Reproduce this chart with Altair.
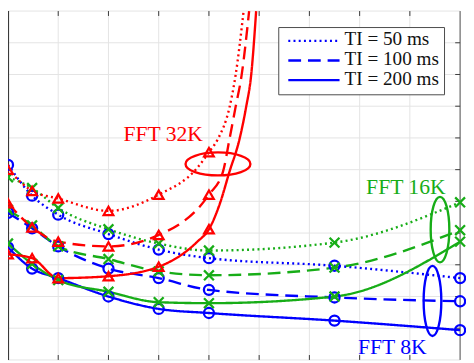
import altair as alt
import pandas as pd

# ---------------- data (x, y in grid-cell units) ----------------
FFT_KEYS = ["8K", "16K", "32K"]
FFT_LABELS = ["FFT 8K", "FFT 16K", "FFT 32K"]
TI_KEYS = ["50", "100", "200"]
TI_LABELS = ["TI = 50 ms", "TI = 100 ms", "TI = 200 ms"]

X_PTS = [0, 0.48, 1, 2, 3, 4, 6.5, 9]
X_RED = [0, 0.48, 1, 2, 3, 4]

FFT8K_50 = [6.15, 5.18, 4.58, 3.97, 3.48, 3.21, 2.97, 2.58]
FFT8K_100 = [4.64, 4.15, 3.58, 2.88, 2.58, 2.21, 1.97, 1.85]
FFT8K_200 = [3.55, 2.88, 2.58, 2.00, 1.61, 1.48, 1.24, 0.94]

FFT16K_50 = [5.76, 5.42, 4.79, 4.12, 3.67, 3.45, 3.70, 4.97]
FFT16K_100 = [4.73, 4.24, 3.58, 3.18, 2.79, 2.67, 2.91, 4.09]
FFT16K_200 = [3.67, 3.03, 2.52, 2.15, 1.82, 1.79, 2.00, 3.73]

FFT32K_50 = [6.00, 5.33, 5.09, 4.70, 5.21, 6.55]
FFT32K_100 = [4.94, 4.18, 3.73, 3.58, 3.94, 5.21]
FFT32K_200 = [3.33, 3.21, 2.58, 2.64, 2.94, 4.12]

# curve points of the 32K lines without markers (read off the steep rise)
FFT32K_50_CX = [3.77, 4.18, 4.41, 4.53, 4.69]
FFT32K_50_CY = [6.06, 6.97, 7.97, 8.97, 11.0]
FFT32K_100_CX = [4.28, 4.41, 4.53, 4.65, 4.80]
FFT32K_100_CY = [5.94, 6.97, 7.97, 8.97, 11.0]
FFT32K_200_CX = [3.77, 4.22, 4.41, 4.61, 4.74, 4.84, 4.94]
FFT32K_200_CY = [3.73, 4.94, 5.94, 6.97, 7.97, 8.97, 11.0]

X_GRID = list(range(0, 10))
Y_GRID = list(range(0, 12))

# ---------------- build tables ----------------
rows = []
def add(fft, ti, xs_, ys_, marker):
    for xv, yv in zip(xs_, ys_):
        rows.append({"fft": fft, "ti": ti, "x": xv, "y": yv, "marker": marker})

add("8K", "50", X_PTS, FFT8K_50, True)
add("8K", "100", X_PTS, FFT8K_100, True)
add("8K", "200", X_PTS, FFT8K_200, True)
add("16K", "50", X_PTS, FFT16K_50, True)
add("16K", "100", X_PTS, FFT16K_100, True)
add("16K", "200", X_PTS, FFT16K_200, True)
add("32K", "50", X_RED, FFT32K_50, True)
add("32K", "100", X_RED, FFT32K_100, True)
add("32K", "200", X_RED, FFT32K_200, True)
add("32K", "50", FFT32K_50_CX, FFT32K_50_CY, False)
add("32K", "100", FFT32K_100_CX, FFT32K_100_CY, False)
add("32K", "200", FFT32K_200_CX, FFT32K_200_CY, False)
df = pd.DataFrame(rows)
mk = df[df["marker"]].drop(columns=["marker"])
df = df.drop(columns=["marker"])

W, H = 460, 355
BLUE, GREEN, RED = "#0000ff", "#17ad17", "#ff0000"
GRID = "#e3e3e3"
AX = "#3a3a3a"
FONT = "'Liberation Serif', 'Times New Roman', Times, serif"

def px(u):
    return u * W / 9.0

def py(u):
    return (11.0 - u) * H / 11.0

xs = alt.Scale(domain=[0, 9], nice=False, zero=False)
ys = alt.Scale(domain=[0, 11], nice=False, zero=False)
col = alt.Scale(domain=FFT_KEYS, range=[BLUE, GREEN, RED])
dash = alt.Scale(domain=TI_KEYS, range=[[2, 3.3], [13, 7], [1, 0]])
XPATH = "M -1 -1 L 1 1 M -1 1 L 1 -1"
shp = alt.Scale(domain=FFT_KEYS, range=["circle", XPATH, "triangle-up"])
siz = alt.Scale(domain=FFT_KEYS, range=[105, 95, 165])

gx = pd.DataFrame({"x": X_GRID})
gy = pd.DataFrame({"y": Y_GRID})
tx = pd.DataFrame({"x": X_GRID[1:-1]})
ty = pd.DataFrame({"y": Y_GRID[1:-1]})

X = alt.X("x:Q", scale=xs, axis=None)
Y = alt.Y("y:Q", scale=ys, axis=None)

grid_v = alt.Chart(gx).mark_rule(color=GRID, strokeWidth=1).encode(x=X)
grid_h = alt.Chart(gy).mark_rule(color=GRID, strokeWidth=1).encode(y=Y)

left_ax = alt.Chart(gx.head(1)).mark_rule(color=AX, strokeWidth=1.2).encode(
    x=alt.value(0.5), y=alt.value(0), y2=alt.value(H))
right_ax = alt.Chart(gx.head(1)).mark_rule(color="#555555", strokeWidth=1).encode(
    x=alt.value(W), y=alt.value(0), y2=alt.value(H))
top_ticks = alt.Chart(tx).mark_rule(color=AX, strokeWidth=1).encode(
    x=X, y=alt.value(0), y2=alt.value(5))
bot_ticks = alt.Chart(tx).mark_rule(color=AX, strokeWidth=1).encode(
    x=X, y=alt.value(H - 5), y2=alt.value(H))
right_ticks = alt.Chart(ty).mark_rule(color=AX, strokeWidth=1).encode(
    y=Y, x=alt.value(W - 5), x2=alt.value(W))

lines = alt.Chart(df).mark_line(strokeWidth=2.4, interpolate="monotone").encode(
    x=X, y=Y,
    color=alt.Color("fft:N", scale=col, legend=None),
    strokeDash=alt.StrokeDash("ti:N", scale=dash, legend=None),
    detail="ti:N",
)

markers = alt.Chart(mk).mark_point(filled=False, strokeWidth=2.3, opacity=1).encode(
    x=X, y=Y,
    color=alt.Color("fft:N", scale=col, legend=None),
    shape=alt.Shape("fft:N", scale=shp, legend=None),
    size=alt.Size("fft:N", scale=siz, legend=None),
)

ann = pd.DataFrame({"fft": FFT_KEYS, "label": FFT_LABELS})

def ellipse(key, cx, cy, path, size):
    return alt.Chart(ann).transform_filter(alt.datum.fft == key).mark_point(
        filled=False, strokeWidth=2.4, opacity=1, shape=path, size=size).encode(
        x=alt.value(px(cx)), y=alt.value(py(cy)),
        color=alt.Color("fft:N", scale=col, legend=None))

def label(key, cx, cy):
    return alt.Chart(ann).transform_filter(alt.datum.fft == key).mark_text(
        font=FONT, fontSize=22, align="center", baseline="alphabetic").encode(
        x=alt.value(px(cx)), y=alt.value(py(cy)),
        text="label:N",
        color=alt.Color("fft:N", scale=col, legend=None))

WIDE = "M -1 0 A 1 0.355 0 1 1 1 0 A 1 0.355 0 1 1 -1 0 Z"
TALL_G = "M 0 -1 A 0.285 1 0 1 1 0 1 A 0.285 1 0 1 1 0 -1 Z"
TALL_B = "M 0 -1 A 0.252 1 0 1 1 0 1 A 0.252 1 0 1 1 0 -1 Z"

ell32 = ellipse("32K", 4.18, 6.18, WIDE, 4356)
ell16 = ellipse("16K", 8.60, 4.11, TALL_G, 4436)
ell8 = ellipse("8K", 8.45, 1.86, TALL_B, 5098)
lab32 = label("32K", 3.09, 6.91)
lab16 = label("16K", 7.92, 5.24)
lab8 = label("8K", 7.65, 0.18)

# ---------------- legend ----------------
leg_box = alt.Chart(ann.head(1)).mark_rect(fill="white", stroke="#4a4a4a", strokeWidth=1).encode(
    x=alt.value(px(5.39)), x2=alt.value(px(8.69)),
    y=alt.value(py(10.48)), y2=alt.value(py(8.36)))

leg_layers = []
for i, (k, lab) in enumerate(zip(TI_KEYS, TI_LABELS)):
    ld = pd.DataFrame({"ti": [k], "label": [lab]})
    ly = py(10.06 - 0.62 * i)
    tyv = py(9.94 - 0.635 * i)
    leg_layers.append(alt.Chart(ld).mark_rule(strokeWidth=2.4, color=BLUE).encode(
        x=alt.value(px(5.58)), x2=alt.value(px(6.60)), y=alt.value(ly),
        strokeDash=alt.StrokeDash("ti:N", scale=dash, legend=None)))
    leg_layers.append(alt.Chart(ld).mark_text(font=FONT, fontSize=19.5, align="left",
                                              baseline="alphabetic", color="#111111").encode(
        x=alt.value(px(6.70)), y=alt.value(tyv), text="label:N"))

chart = alt.layer(
    grid_v, grid_h, left_ax, right_ax, top_ticks, bot_ticks, right_ticks,
    leg_box, *leg_layers,
    lines, markers, ell32, ell16, ell8, lab32, lab16, lab8,
).properties(
    width=W, height=H,
    autosize=alt.AutoSizeParams(type="none"),
    padding={"left": 0, "top": 0, "right": 6, "bottom": 0},
    background="white",
).configure_view(stroke=None)

chart.save("out.html", embed_options={"renderer": "svg", "actions": False})
